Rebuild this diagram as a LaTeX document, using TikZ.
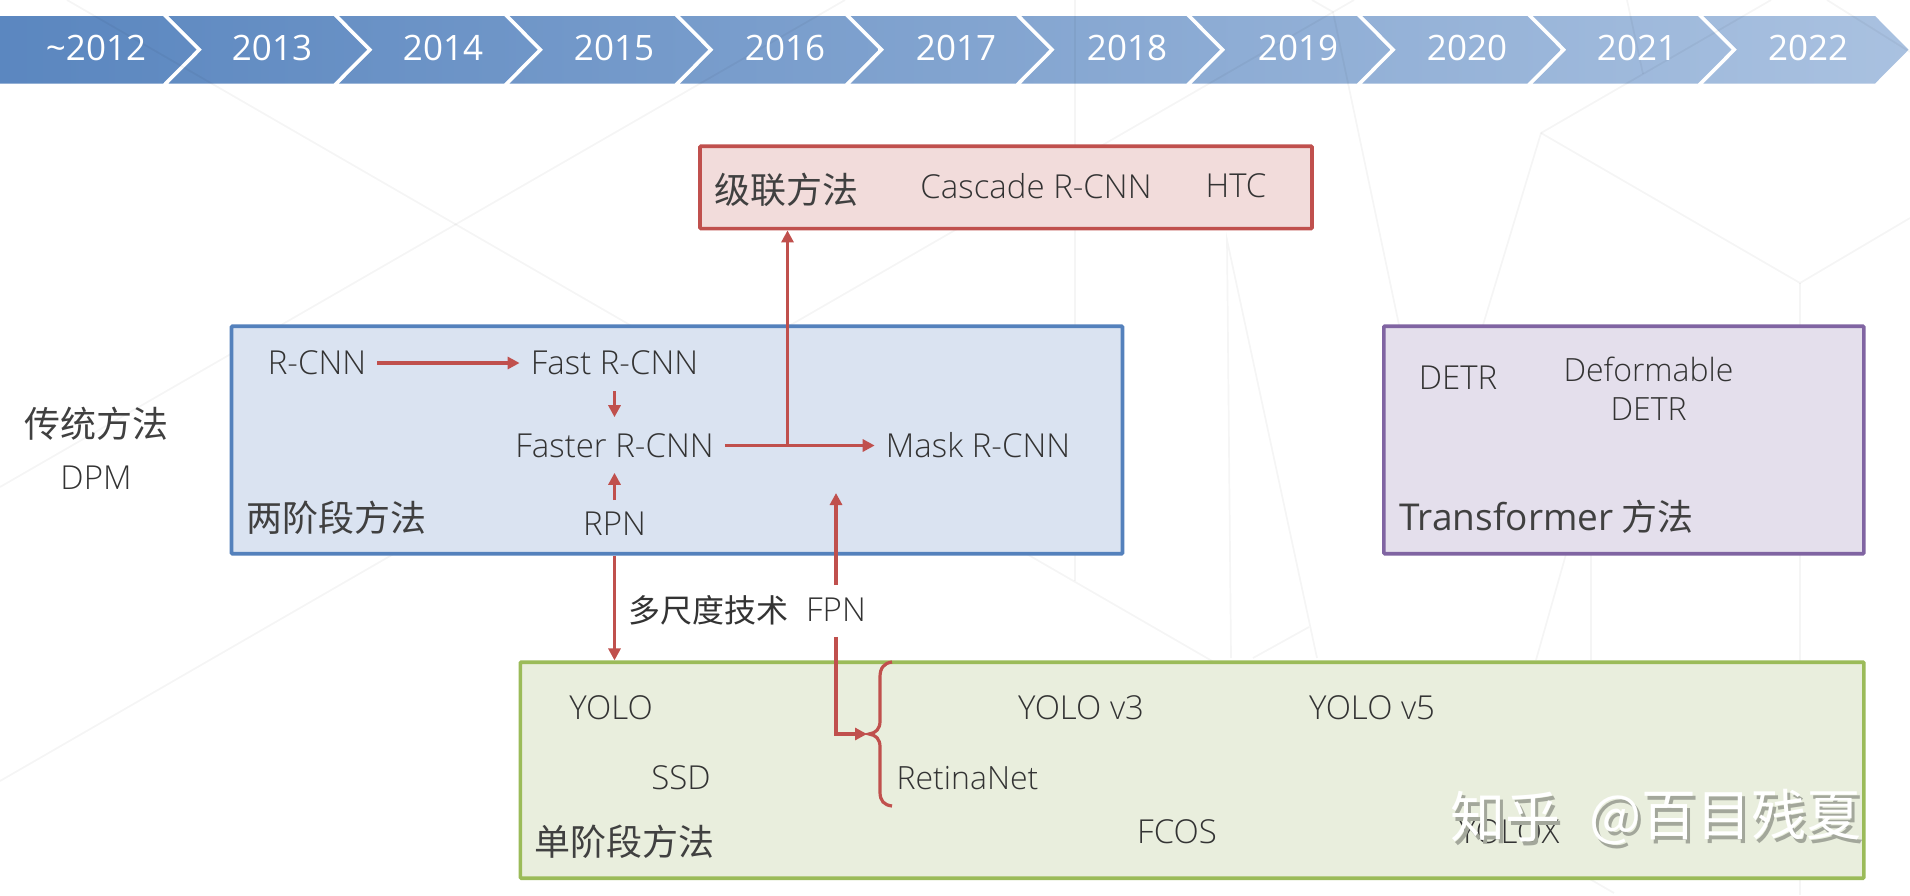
\documentclass[tikz,border=0pt]{standalone}
\usepackage{fontspec}
\setmainfont{Open Sans Light}
\newfontfamily\headfont{Open Sans}
\newfontfamily\cjk{Noto Sans CJK SC}
\usetikzlibrary{arrows.meta,calc}
\definecolor{chevA}{HTML}{5A86BF}
\definecolor{chevB}{HTML}{A9C1E0}
\definecolor{redS}{HTML}{C0504D}
\definecolor{redF}{HTML}{F2DCDB}
\definecolor{bluS}{HTML}{5481BC}
\definecolor{bluF}{HTML}{DAE3F1}
\definecolor{purS}{HTML}{8064A2}
\definecolor{purF}{HTML}{E4DFEC}
\definecolor{grnS}{HTML}{9BBB59}
\definecolor{grnF}{HTML}{E9EEDD}
\definecolor{ink}{HTML}{333333}
\definecolor{headink}{HTML}{404040}
\definecolor{wmshadow}{HTML}{A3A79B}
\tikzset{
  groupbox/.style={draw=#1S,fill=#1F,line width=3.6pt,rounded corners=1pt,inner sep=0pt,anchor=north west},
  lbl/.style={inner sep=0pt,text=ink,font=\fontsize{33}{39}\selectfont,align=center},
  head/.style={inner sep=0pt,text=headink,font=\fontsize{36}{42}\selectfont\cjk},
  yearlbl/.style={inner sep=0pt,text=white,font=\fontsize{35}{42}\selectfont\headfont},
  arr/.style={draw=redS,line width=3.3pt,-{Triangle[length=12pt,width=12pt]}},
  bgline/.style={draw=black,opacity=.04,line width=1.7pt},
  wm/.style={inner sep=0pt,font=\fontsize{55}{60}\selectfont\cjk},
}
\begin{document}
\begin{tikzpicture}[x=1pt,y=-1pt]
\useasboundingbox (0,0) rectangle (1910,895);
\fill[white] (0,0) rectangle (1910,895);
% chevrons
\foreach \i in {0,...,10}{
  \pgfmathsetmacro{\R}{\i<10 ? 163+170.55*\i : 1875}
  \pgfmathsetmacro{\Lx}{\i>0 ? 163+170.55*(\i-1)+5.5 : -40}
  \pgfmathsetmacro{\pa}{\i*100/11}
  \pgfmathsetmacro{\pb}{(\i+1)*100/11}
  \shade[left color=chevB!\pa!chevA,right color=chevB!\pb!chevA]
    (\Lx,16) -- (\R,16) -- (\R+33.5,49.7) -- (\R,83.5) -- (\Lx,83.5) -- (\Lx+33.5,49.7) -- cycle;
}
% faint background lines
\draw[bgline] (67,0) -- (1614,893);
\draw[bgline] (0,487) -- (845,0);
\draw[bgline] (0,781) -- (1354,0);
\draw[bgline] (1312,0) -- (1333,12) -- (1399,325);
\draw[bgline] (1075,0) -- (1075,581);
\draw[bgline] (1231,658) -- (1227,240) -- (1317,658);
\draw[bgline] (1253,658) -- (1309,627);
\draw[bgline] (1483,325) -- (1541,133) -- (1771,0);
\draw[bgline] (1627,0) -- (1643,74);
\draw[bgline] (1827,0) -- (1910,52);
\draw[bgline] (1541,133) -- (1800,283) -- (1910,218);
\draw[bgline] (1800,283) -- (1800,895);
\draw[bgline] (1591,540) -- (1591,660);
\draw[bgline] (1536,660) -- (1570,540);
% group boxes
\node[groupbox=red,minimum width=612pt,minimum height=82.4pt] (cascadebox) at (698.2,144.4) {};
\node[groupbox=blu,minimum width=891pt,minimum height=227.5pt] (twostage) at (229.7,324.4) {};
\node[groupbox=pur,minimum width=480pt,minimum height=227.5pt] (transbox) at (1382,324.4) {};
\node[groupbox=grn,minimum width=1343.6pt,minimum height=216pt] (onestage) at (518.5,660.4) {};
% years
\foreach \n/\t/\x in {0/{\textasciitilde2012}/96,1/2013/272,2/2014/443,3/2015/614,4/2016/785,5/2017/956,6/2018/1127,7/2019/1298,8/2020/1467,9/2021/1637,10/2022/1808}{
  \node[yearlbl] (y\n) at (\x,48) {\t};
}
% texts
\node[head] (hcascade) at (786.5,190) {级联方法};
\node[lbl] (cascadercnn) at (1036,186) {Cascade R-CNN};
\node[lbl] (htc) at (1236,186) {HTC};
\node[lbl] (rcnn) at (317,363) {R-CNN};
\node[lbl] (fast) at (614.5,363) {Fast R-CNN};
\node[lbl] (faster) at (614.5,445.5) {Faster R-CNN};
\node[lbl] (mask) at (978,445.5) {Mask R-CNN};
\node[lbl] (rpn) at (614.5,524) {RPN};
\node[head] (htwo) at (336,518) {两阶段方法};
\node[head] (htrad) at (96,424) {传统方法};
\node[lbl] (dpm) at (96,478) {DPM};
\node[head,font=\fontsize{32}{38}\selectfont\cjk,text=ink] (multi) at (708,610) {多尺度技术};
\node[lbl] (fpn) at (836,610) {FPN};
\node[lbl] (yolo) at (611,708) {YOLO};
\node[lbl] (ssd) at (681,778) {SSD};
\node[lbl,font=\fontsize{32}{39}\selectfont] (retina) at (967.5,778) {RetinaNet};
\node[head] (hone) at (624,842) {单阶段方法};
\node[lbl] (yolo3) at (1081,708) {YOLO v3};
\node[lbl] (yolo5) at (1372,708) {YOLO v5};
\node[lbl] (fcos) at (1177,832) {FCOS};
\node[lbl] (yolox) at (1509,832) {YOLOX};
\node[lbl] (detr) at (1458,378) {DETR};
\node[lbl,font=\fontsize{32}{39}\selectfont] (ddetr) at (1648.5,388.5) {Deformable\\DETR};
\node[head,anchor=west] (htrans) at (1399,517) {{\headfont\fontsize{37}{42}\selectfont Transformer} 方法};
% connectors
\coordinate (branch) at (787.5,445.5);
\coordinate (fpnup) at (836,493);
\coordinate (bracetip) at (867,734);
\draw[arr] ([xshift=11]rcnn.east) -- ([xshift=-11]fast.west);
\draw[arr] ([yshift=-16]fast.south) -- ([yshift=16]faster.north);
\draw[arr] ([xshift=11]faster.east) -- ([xshift=-11]mask.west);
\draw[arr] (branch) -- (branch |- cascadebox.south);
\draw[arr] ([yshift=12]rpn.north) -- ([yshift=-15]faster.south);
\draw[arr] (rpn |- twostage.south) -- (rpn |- onestage.north);
\draw[arr] ([yshift=13]fpn.north) -- (fpnup);
\draw[arr] ([yshift=-15]fpn.south) -- (fpn |- bracetip) -- (bracetip);
\draw[draw=redS,line width=3.2pt] (892,662) .. controls (884,663) and (880,668) .. (880,677)
  -- (880,721) .. controls (880,729) and (876,733) .. (869,734)
  .. controls (876,735) and (880,739) .. (880,747)
  -- (880,792) .. controls (880,801) and (884,805) .. (892,806);
% watermark
\node[wm,text=wmshadow,anchor=west] (wmAs) at (1453,821) {知乎};
\node[wm,text=wmshadow,anchor=west] (wmBs) at (1592,821) {@百目残夏};
\node[wm,text=white,anchor=west] (wmA) at (1450,817) {知乎};
\node[wm,text=white,anchor=west] (wmB) at (1589,817) {@百目残夏};
\end{tikzpicture}
\end{document}
